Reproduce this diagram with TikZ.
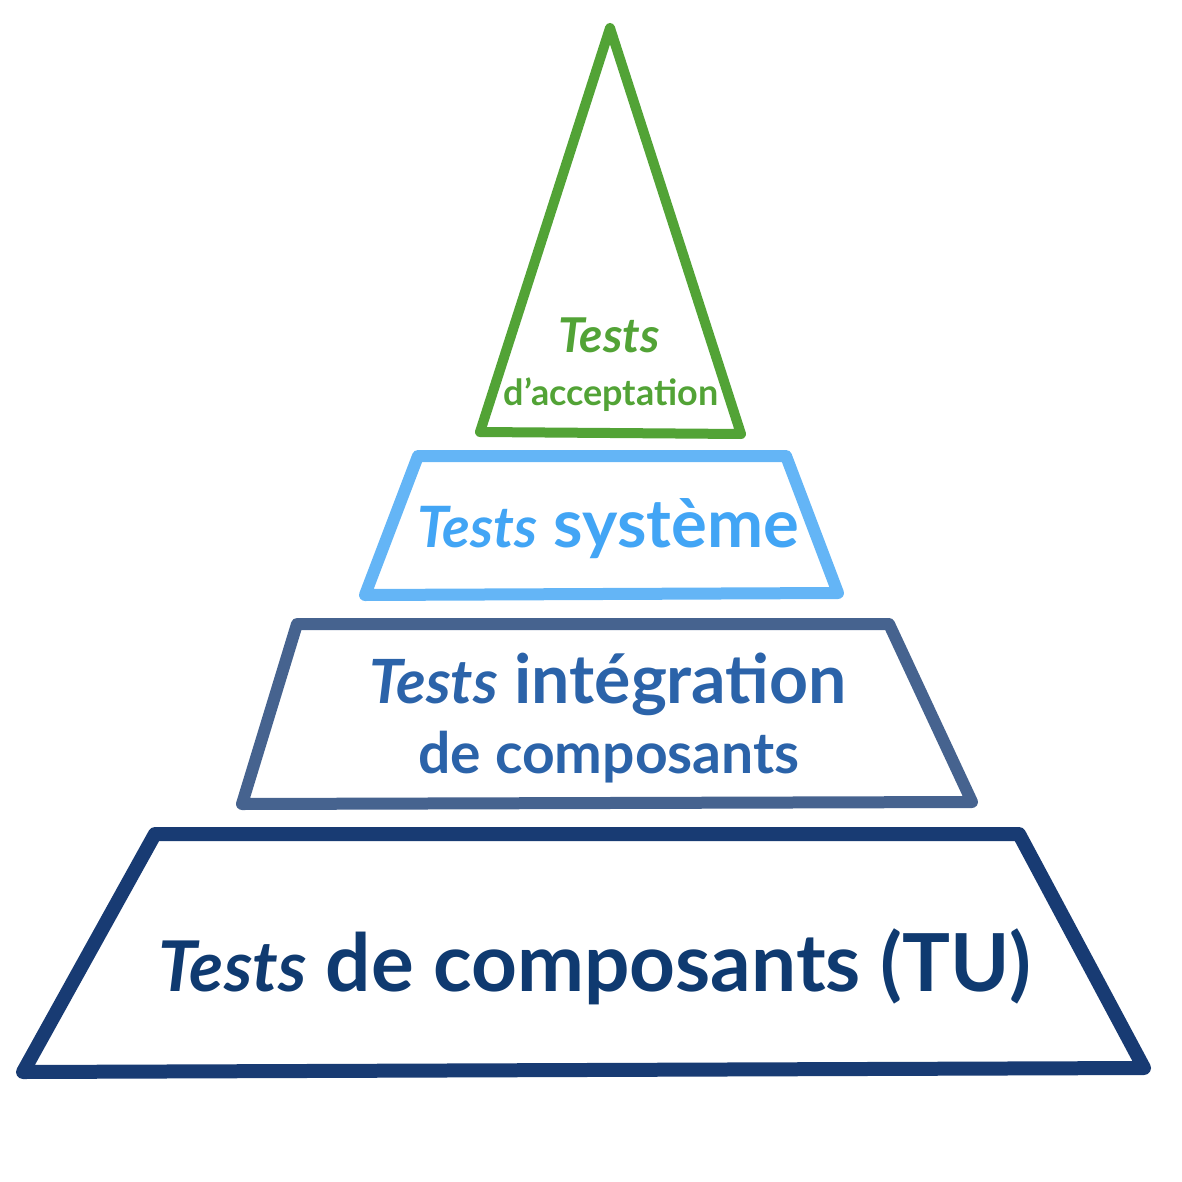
\documentclass[tikz,border=0pt]{standalone}
\usepackage{fontspec}
\setmainfont{Lato}
\usepackage{tikz}

\definecolor{accgreen}{HTML}{52A336}
\definecolor{syslight}{HTML}{64B5F6}
\definecolor{systext}{HTML}{42A5F5}
\definecolor{intline}{HTML}{46638F}
\definecolor{inttext}{HTML}{2B63A9}
\definecolor{tuline}{HTML}{183B73}
\definecolor{tutext}{HTML}{0F3A70}

% brush-like word, with its own size
\newcommand{\scr}[2]{{\fontsize{#1}{#1}\selectfont\itshape\bfseries #2}}
\newcommand{\sz}[1]{\fontsize{#1}{#1}\selectfont}

\begin{document}
\begin{tikzpicture}[x=1pt,y=-1pt,line join=round,
    level/.style={line width=#1},
    lbl/.style={font=\bfseries,inner sep=0pt,anchor=base}]

          \useasboundingbox (0,0) rectangle (1182,1182);

          % levels of the pyramid, from the top
          \draw[level=10pt, accgreen] (610,28) -- (741,434) -- (480,432) -- cycle;
          \draw[level=12pt, syslight] (418,456) -- (786,456) -- (838,593) -- (365,595) -- cycle;
          \draw[level=12pt, intline] (297,624) -- (889,624) -- (972,802) -- (242,804) -- cycle;
          \draw[level=14pt, tuline] (155,834) -- (1019,834) -- (1144,1068) -- (23,1072) -- cycle;

          % labels
          \node[lbl, text=accgreen] (acc1) at (609,352) {\scr{48}{Tests}};
          \node[lbl, text=accgreen] (acc2) at (611,405) {\sz{36}d’acceptation};

          \node[lbl, text=systext] (sys) at (608,547) {\scr{57}{Tests}\sz{67} système};

          \node[lbl, text=inttext] (int1) at (608,703) {\scr{61}{Tests}\sz{68} intégration};
          \node[lbl, text=inttext] (int2) at (609,773) {\sz{57}de composants};

          \node[lbl, text=tutext] (tu) at (595,991) {\scr{70}{Tests}\sz{80} de composants (TU)};
        \end{tikzpicture}
\end{document}
